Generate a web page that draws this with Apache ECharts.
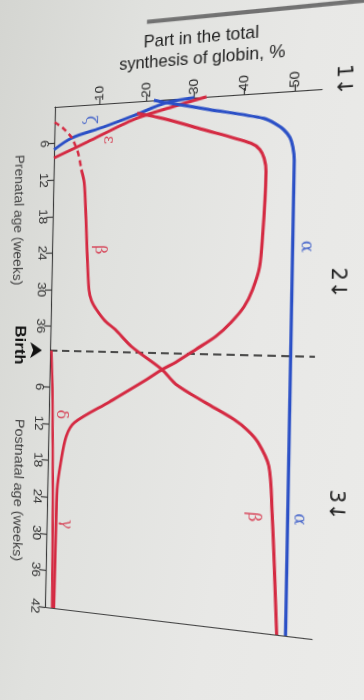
<!DOCTYPE html>
<html><head><meta charset="utf-8">
<script src="https://cdn.jsdelivr.net/npm/echarts@6/dist/echarts.min.js"></script>
<style>
html,body{margin:0;padding:0;width:364px;height:700px;overflow:hidden;
 background:linear-gradient(100deg,#d4d5d1 0%,#e0e1de 30%,#e8e8e6 65%,#ebebe9 100%);}
#chart{position:absolute;left:0;top:0;width:364px;height:700px;transform-origin:0 0;}
</style></head><body><div id="chart"></div>
<script>
// ---------- data (week of age from conception, percent of total globin synthesis) ----------
const percentTicks = [10, 20, 30, 40, 50];
const prenatalTicks = [6, 12, 18, 24, 30, 36];
const postnatalTicks = [6, 12, 18, 24, 30, 36, 42];
const birthWeek = 40;
const weekMax = 82;
const pctMax = 55;

// [week, percent]
const alphaCurve = [[0,21.6],[0.4,23.7],[2,33.0],[3.9,44.0],[5,46.6],[5.8,47.9],[7,49.1],[8.5,49.7],[10.5,50],[30,50],[60,50],[82,50]];
const zetaCurve = [[0,30],[0.5,24.3],[2.2,17.5],[3.8,10.8],[5.3,3.8],[7,0]];
const epsilonCurve = [[0,32.5],[1.2,25.7],[2.8,17.6],[6.05,7.4],[8.4,0]];
const gammaCurve = [[1.9,18.1],[3.0,23.7],[5,31.6],[7.6,41.6],[8.6,43.3],[10,44.2],[12,44.6],[16.3,44.5],[21.3,44.2],[26.5,43.7],[30,42.4],[32.6,40.8],[35,38.3],[37.2,35.3],[39.3,31.3],[41.4,27.2],[42.6,24.4],[44.2,21.3],[48,13.4],[51.6,5.8],[53.9,4.0],[58.2,2.9],[62.7,2.2],[70,2.1],[82,2.0]];
const betaEarlyCurve = [[2.5,0],[3.5,1.8],[5.1,3.8],[7.3,5.2],[9,5.8],[10.5,6.2]];
const betaCurve = [[10.5,6.2],[12.7,6.9],[18,7.4],[23.5,7.8],[30,8.4],[31.8,9.0],[33.2,10.1],[35,12.0],[36.4,14.3],[39.1,17.9],[42.6,24.4],[44.8,27.3],[47.5,33.4],[49.9,39.2],[51.5,42.0],[53.2,44.0],[56.7,46.2],[63.7,47.0],[73,47.7],[82,48.3]];
const deltaCurve = [[40,0.3],[43,0.5],[46,0.7],[55,1.0],[65,1.3],[82,1.6]];
const birthLine = [[40,0],[40,54.6]];
// [text, week, percent, colourKey]
const curveLabels = [['ζ',2.5,7.9,'b'],['ε',5.9,11.9,'r'],['β',23.6,10.5,'r'],['α',23.5,52.5,'b'],
                     ['δ',50.4,2.7,'r'],['γ',68.2,4.4,'r'],['β',64.6,43.3,'r'],['α',64.4,52.2,'b']];

// ---------- photo perspective (plot rectangle -> photographed quad) ----------
const L=55, T=107, GW=267, GH=500;
const quad=[[55,107],[322,89],[312,639],[45,607]];
function sq2quad(q){
  const [x0,y0]=q[0],[x1,y1]=q[1],[x2,y2]=q[2],[x3,y3]=q[3];
  const dx1=x1-x2, dx2=x3-x2, dx3=x0-x1+x2-x3;
  const dy1=y1-y2, dy2=y3-y2, dy3=y0-y1+y2-y3;
  const den=dx1*dy2-dx2*dy1;
  const g=(dx3*dy2-dx2*dy3)/den, h=(dx1*dy3-dx3*dy1)/den;
  return {a:x1-x0+g*x1,b:x3-x0+h*x3,c:x0,d:y1-y0+g*y1,e:y3-y0+h*y3,f:y0,g:g,h:h};
}
const Hm=sq2quad(quad);
function toPre(x,y){
  const A1=Hm.a-Hm.g*x, B1=Hm.b-Hm.h*x, C1=x-Hm.c;
  const A2=Hm.d-Hm.g*y, B2=Hm.e-Hm.h*y, C2=y-Hm.f;
  const det=A1*B2-B1*A2;
  const u=(C1*B2-B1*C2)/det, v=(A1*C2-C1*A2)/det;
  return [L+u*GW, T+v*GH];
}
const el=document.getElementById('chart');
const M=[Hm.a/GW,Hm.d/GW,0,Hm.g/GW, Hm.b/GH,Hm.e/GH,0,Hm.h/GH, 0,0,1,0,
  Hm.c-Hm.a*L/GW-Hm.b*T/GH, Hm.f-Hm.d*L/GW-Hm.e*T/GH, 0, 1-Hm.g*L/GW-Hm.h*T/GH];
el.style.transform='matrix3d('+M.join(',')+')';

// ---------- chart ----------
const blue='#2a4fc6', red='#d42a42', ink='#2b2b2b';
const weekTicks = prenatalTicks.concat(postnatalTicks.map(t=>birthWeek+t));
const sans='"Liberation Sans", Arial, sans-serif';
function pts(c){return c.map(([w,p])=>[p,w]);}
function curve(name,c,color,extra){
  return Object.assign({name:name,type:'line',data:pts(c),symbol:'none',showSymbol:false,smooth:0.3,
    clip:false,silent:true,lineStyle:{color:color,width:3},z:3},extra||{});
}
function txt(text,x,y,size,opts){
  const p=toPre(x,y);
  return Object.assign({type:'text',x:p[0],y:p[1],rotation:-Math.PI/2,silent:true,
    style:Object.assign({text:text,fill:ink,fontSize:size,fontFamily:sans,align:'center',verticalAlign:'middle',
      textAlign:'center',textVerticalAlign:'middle'},(opts&&opts.style)||{})},(opts&&opts.el)||{});
}
const g1=toPre(147,22), g2=toPre(380,-1);
const chart=echarts.init(el,null,{renderer:'canvas'});
chart.setOption({
  animation:false,
  backgroundColor:'transparent',
  grid:{left:L,top:T,width:GW,height:GH,containLabel:false},
  xAxis:[{type:'value',position:'top',min:0,max:pctMax,
      axisLine:{show:true,onZero:false,lineStyle:{color:'#3a3a3a',width:1.2}},
      axisTick:{show:true,customValues:percentTicks,length:6,lineStyle:{color:'#3a3a3a',width:1.2}},
      axisLabel:{customValues:percentTicks,rotate:-90,margin:3,fontSize:13.5,color:'#2e2e2e',fontFamily:sans},
      splitLine:{show:false}},
    {type:'value',position:'bottom',min:0,max:pctMax,
      axisLine:{show:true,onZero:false,lineStyle:{color:'#444',width:1.2}},
      axisTick:{show:false},axisLabel:{show:false},splitLine:{show:false}}],
  yAxis:{type:'value',inverse:true,min:0,max:weekMax,
      axisLine:{show:true,onZero:false,lineStyle:{color:'#3a3a3a',width:1.2}},
      axisTick:{show:true,customValues:weekTicks,length:7,lineStyle:{color:'#3a3a3a',width:1.2}},
      axisLabel:{customValues:weekTicks,rotate:-90,margin:4,fontSize:13.5,color:'#2e2e2e',fontFamily:sans,
        formatter:v=>String(v>birthWeek? v-birthWeek : v)},
      splitLine:{show:false}},
  graphic:[
    {type:'line',shape:{x1:g1[0],y1:g1[1],x2:g2[0],y2:g2[1]},style:{stroke:'#727272',lineWidth:4},silent:true},
    txt('Part in the total\nsynthesis of globin, %',200,48,17,{el:{rotation:0},style:{fill:'#1e1e1e',lineHeight:20}}),
    txt('Prenatal age (weeks)',18,220,14,{style:{fill:'#444'}}),
    txt('Postnatal age (weeks)',18,490,14.5,{style:{fill:'#444'}}),
    txt('Birth',19,345,17,{style:{fill:'#111',fontWeight:'bold'}}),
    txt('1↓',343,80,19,{style:{fill:'#222',fontFamily:'"DejaVu Sans", sans-serif'}}),
    txt('2↓',337,283,19,{style:{fill:'#222',fontFamily:'"DejaVu Sans", sans-serif'}}),
    txt('3↓',335,505,19,{style:{fill:'#222',fontFamily:'"DejaVu Sans", sans-serif'}})
  ],
  series:[
    {name:'birth',type:'line',data:pts(birthLine),symbol:'none',silent:true,clip:false,z:2,
      lineStyle:{color:'#1a1a1a',width:1.5,type:[8,5]},
      markPoint:{symbol:'arrow',symbolSize:[12,13],symbolRotate:-90,symbolOffset:[-9,0],
        itemStyle:{color:'#111'},label:{show:false},silent:true,data:[{coord:[0,birthWeek]}]}},
    curve('ζ',zetaCurve,blue),
    curve('ε',epsilonCurve,red),
    curve('γ',gammaCurve,red),
    curve('β early',betaEarlyCurve,red,{lineStyle:{color:red,width:2.6,type:[6,4]}}),
    curve('β',betaCurve,red),
    curve('δ',deltaCurve,red,{lineStyle:{color:red,width:2.6}}),
    curve('α',alphaCurve,blue,{z:4}),
    {name:'labels',type:'scatter',symbolSize:1,clip:false,silent:true,z:6,
      itemStyle:{color:'rgba(0,0,0,0)'},
      label:{show:true,position:'inside',rotate:-90,fontSize:16,fontFamily:'"DejaVu Serif", serif'},
      data:curveLabels.map(([t,w,p,c])=>({value:[p,w],label:{formatter:t,color:c==='b'?blue:red}}))}
  ]
});
</script></body></html>
